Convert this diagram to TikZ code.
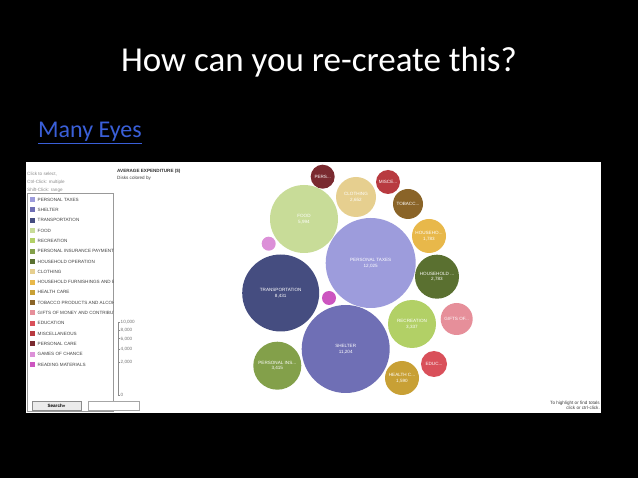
\documentclass[tikz,border=0pt]{standalone}
\usepackage{fontspec}
\setmainfont{Carlito}
\setsansfont{Liberation Sans}
\begin{document}
\begin{tikzpicture}[x=1pt,y=-1pt,
  bub/.style={circle,inner sep=0pt,text=white,font=\sffamily\fontsize{4.6}{5.5}\selectfont,align=center},
  sq/.style={inner sep=0pt,minimum size=5pt},
  leg/.style={anchor=west,inner sep=0pt,font=\sffamily\fontsize{4.6}{5}\selectfont,text=black!75},
  small/.style={inner sep=0pt,font=\sffamily\fontsize{4.6}{5}\selectfont,text=black!75},
  tk/.style={anchor=west,inner sep=0pt,font=\sffamily\fontsize{4.6}{5}\selectfont,text=black!55}]
\definecolor{cPT}{HTML}{9D9CDC}\definecolor{cSH}{HTML}{6F6FB5}\definecolor{cTR}{HTML}{454D80}
\definecolor{cFO}{HTML}{C8DC98}\definecolor{cRE}{HTML}{B2D066}\definecolor{cPI}{HTML}{83A04A}
\definecolor{cHO}{HTML}{5A7030}\definecolor{cCL}{HTML}{E6CF8F}\definecolor{cHF}{HTML}{E8B84A}
\definecolor{cHC}{HTML}{C8A035}\definecolor{cTO}{HTML}{8A6428}\definecolor{cGI}{HTML}{E68F9A}
\definecolor{cED}{HTML}{D9505A}\definecolor{cMI}{HTML}{B83A40}\definecolor{cPC}{HTML}{7A2A30}
\definecolor{cGA}{HTML}{DC90D8}\definecolor{cRM}{HTML}{CC55C0}\definecolor{link}{HTML}{3A5FD8}
\useasboundingbox (0,0) rectangle (638,478);
\fill[black] (0,0) rectangle (638,478);
\node[text=white,font=\fontsize{35}{40}\selectfont,inner sep=0pt] (title) at (319,62) {How can you re-create this?};
\node[text=link,font=\fontsize{24}{28}\selectfont,inner sep=0pt,anchor=west] (link) at (38,133) {\underline{Many Eyes}};
\fill[white] (26,162) rectangle (601,413);
% left panel
\node[small,anchor=west,text=black!45] (h1) at (27,174) {Click to select,};
\node[small,anchor=west,text=black!45] (h2) at (27,182) {Ctrl-Click: multiple};
\node[small,anchor=west,text=black!45] (h3) at (27,190) {Shift-Click: range};
\draw[black!40,line width=0.4pt] (27,193) rectangle (113,411);
\begin{scope}
\clip (27,193) rectangle (113,411);
\foreach \c/\t [count=\i] in {cPT/PERSONAL TAXES,cSH/SHELTER,cTR/TRANSPORTATION,cFO/FOOD,cRE/RECREATION,cPI/PERSONAL INSURANCE PAYMENTS,cHO/HOUSEHOLD OPERATION,cCL/CLOTHING,cHF/HOUSEHOLD FURNISHINGS AND EQUIPMENT,cHC/HEALTH CARE,cTO/TOBACCO PRODUCTS AND ALCOHOL,cGI/GIFTS OF MONEY AND CONTRIBUTIONS,cED/EDUCATION,cMI/MISCELLANEOUS,cPC/PERSONAL CARE,cGA/GAMES OF CHANCE,cRM/READING MATERIALS}{
  \node[sq,fill=\c] (s\i) at (32.5,{199.7+(\i-1)*10.3}) {};
  \node[leg] (l\i) at (37.5,{199.7+(\i-1)*10.3}) {\t};
}
\end{scope}
\node[small,anchor=west,font=\sffamily\bfseries\fontsize{4.6}{5}\selectfont,text=black!80] (ae) at (117,171) {AVERAGE EXPENDITURE (\$)};
\node[small,anchor=west] (dc) at (117,178) {Disks colored by};
\draw[black!45,line width=0.4pt] (118,322) -- (118,395);
\foreach \y/\t in {322/{10,000},330/{8,000},338.7/{6,000},349/{4,000},362.3/{2,000},395/0}{
  \draw[black!45,line width=0.4pt] (118,\y) -- (120,\y);
  \node[tk] at (120.5,\y) {\t};
}
\node[draw=black!45,fill=black!8,minimum width=49pt,minimum height=9pt,inner sep=0pt,font=\sffamily\bfseries\fontsize{4.6}{5}\selectfont] (btn) at (56.5,406) {Search>>};
\node[draw=black!35,fill=white,minimum width=51pt,minimum height=9pt,inner sep=0pt] (fld) at (113.5,406) {};
\node[small,anchor=east,align=right] (hint) at (600,405) {To highlight or find totals\\click or ctrl-click.};
% bubbles
\node[bub,fill=cPC,minimum size=24pt] (pc) at (322.7,176.7) {PERS...};
\node[bub,fill=cCL,minimum size=40pt] (cl) at (356,197) {CLOTHING\\2,652};
\node[bub,fill=cMI,minimum size=24pt] (mi) at (388,182) {MISCE...};
\node[bub,fill=cTO,minimum size=30pt] (to) at (408,204) {TOBACC...};
\node[bub,fill=cFO,minimum size=68pt] (fo) at (304,219) {FOOD\\5,994};
\node[bub,fill=cHF,minimum size=34pt] (hf) at (429,236) {HOUSEHO...\\1,783};
\node[bub,fill=cGA,minimum size=14pt] (ga) at (268.7,243.7) {};
\node[bub,fill=cPT,minimum size=90pt] (pt) at (370.7,263) {PERSONAL TAXES\\12,025};
\node[bub,fill=cHO,minimum size=44pt] (ho) at (437,276.7) {HOUSEHOLD ...\\2,783};
\node[bub,fill=cTR,minimum size=77pt] (tr) at (280.7,293) {TRANSPORTATION\\8,431};
\node[bub,fill=cRM,minimum size=14pt] (rm) at (329,298) {};
\node[bub,fill=cSH,minimum size=88pt] (sh) at (345.7,349) {SHELTER\\11,204};
\node[bub,fill=cRE,minimum size=48pt] (re) at (412,324) {RECREATION\\3,337};
\node[bub,fill=cGI,minimum size=32pt] (gi) at (456.7,319) {GIFTS OF...};
\node[bub,fill=cPI,minimum size=48pt] (pi) at (277.3,365.7) {PERSONAL INS...\\3,415};
\node[bub,fill=cED,minimum size=26pt] (ed) at (434,364) {EDUC...};
\node[bub,fill=cHC,minimum size=34pt] (hc) at (402,378) {HEALTH C...\\1,590};
\end{tikzpicture}
\end{document}
